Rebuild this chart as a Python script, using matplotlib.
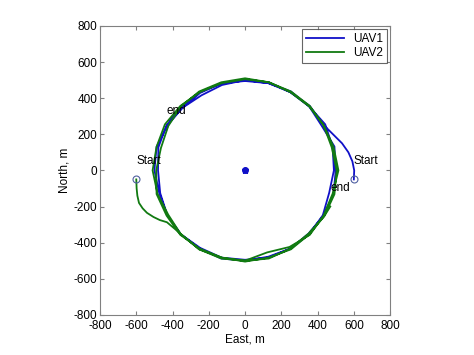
import matplotlib
matplotlib.use("Agg")
import matplotlib.pyplot as plt

plt.rcParams['font.family'] = ['Liberation Sans', 'DejaVu Sans']
plt.rcParams['axes.unicode_minus'] = False

# UAV1 trajectory (East, North) in metres
uav1_x = [600, 602, 592, 570, 535, 495, 455, 420, 390,
          357, 250, 129, 0, -129, -248, -346, -429, -488, -500, -473, -429, -354, -248, -129, 0,
          129, 250, 350, 433, 488, 500,
          493, 424, 354, 253, 129, 0, -127, -240, -346, -433, -478, -480, -468, -429, -354, -250, -131, 0,
          128, 250, 354, 429, 464, 490,
          483, 442, 354, 250, 131, 0, -129, -250, -350, -410, -432]
uav1_y = [-50, 0, 50, 100, 150, 190, 230, 270, 310,
          357, 433, 483, 495, 483, 429, 346, 248, 131, 0, -127, -248, -354, -429, -483, -495,
          -483, -433, -350, -250, -131, 0,
          132, 245, 354, 437, 483, 500, 473, 416, 346, 250, 128, 0, -126, -248, -354, -433, -488, -500,
          -478, -433, -354, -248, -124, 0,
          129, 255, 354, 433, 488, 500, 483, 433, 350, 287, 228]

# UAV2 trajectory (East, North) in metres
uav2_x = [-600, -598, -594, -585, -565, -541, -505, -470, -431,
          -253, -129, 0, 129, 253, 354, 437, 493, 505,
          478, 433, 357, 253, 131, 0, -131, -253, -354, -424, -464, -490,
          -488, -433, -357, -250, -129, 0, 122, 245, 357, 433, 483, 515,
          488, 433, 354, 250, 131, 0, -129, -250, -357, -442, -488, -510,
          -483, -424, -354, -253, -131, 0, 131, 250, 350, 437, 470]
uav2_y = [-50, -100, -140, -180, -210, -235, -258, -275, -287,
          -437, -483, -505, -483, -437, -354, -253, -132, 0,
          128, 250, 357, 437, 488, 510, 488, 437, 354, 245, 124, 0,
          -131, -250, -357, -433, -483, -500, -454, -424, -357, -250, -129, 0,
          131, 250, 354, 433, 488, 505, 483, 433, 357, 255, 131, 0,
          -129, -245, -354, -437, -488, -500, -488, -433, -350, -253, -200]

start_x = [600, -600]
start_y = [-50, -50]
end_x = [-432, 470]
end_y = [228, -200]
target_x = [0]
target_y = [0]

fig = plt.figure(figsize=(4.74, 3.55), dpi=100)
ax = fig.add_axes([0.211, 0.113, 0.612, 0.814])

blue = '#1010c8'
green = '#117a11'
ax.plot(uav1_x, uav1_y, color=blue, lw=1.3, label='UAV1', zorder=3,
        solid_joinstyle='round')
ax.plot(uav2_x, uav2_y, color=green, lw=1.3, label='UAV2', zorder=3,
        solid_joinstyle='round')

ax.plot(start_x, start_y, 'o', mfc='none', mec='#5060a0', ms=5, mew=0.8, zorder=4)
ax.plot(target_x, target_y, 'o', color=blue, ms=4, zorder=4)
ax.plot(target_x, target_y, '*', color=blue, ms=5, zorder=4)

for x, y in zip(start_x, start_y):
    ax.text(x, y + 100, 'Start', fontsize=8.5, ha='left', va='center')
for x, y in zip(end_x, end_y):
    ax.text(x, y + 100, 'end', fontsize=8.5, ha='left', va='center')

ax.set_xlim(-800, 800)
ax.set_ylim(-800, 800)
ax.set_xticks(range(-800, 801, 200))
ax.set_yticks(range(-800, 801, 200))
ax.tick_params(direction='in', top=True, right=True, labelsize=8.5, length=3,
               color='#808080')
ax.tick_params(axis='x', pad=4)
ax.tick_params(axis='y', pad=2)
for s in ax.spines.values():
    s.set_color('#808080')
    s.set_linewidth(0.8)
ax.set_xlabel('East, m', fontsize=8.5, labelpad=1)
ax.set_ylabel('North, m', fontsize=8.5, labelpad=2)

leg = ax.legend(loc='upper right', fontsize=8.5, frameon=True, fancybox=False,
                edgecolor='#404040', borderpad=0.3, handlelength=3.2,
                labelspacing=0.2, borderaxespad=0.3)
leg.get_frame().set_linewidth(0.8)

fig.savefig('out.png', dpi=100)
